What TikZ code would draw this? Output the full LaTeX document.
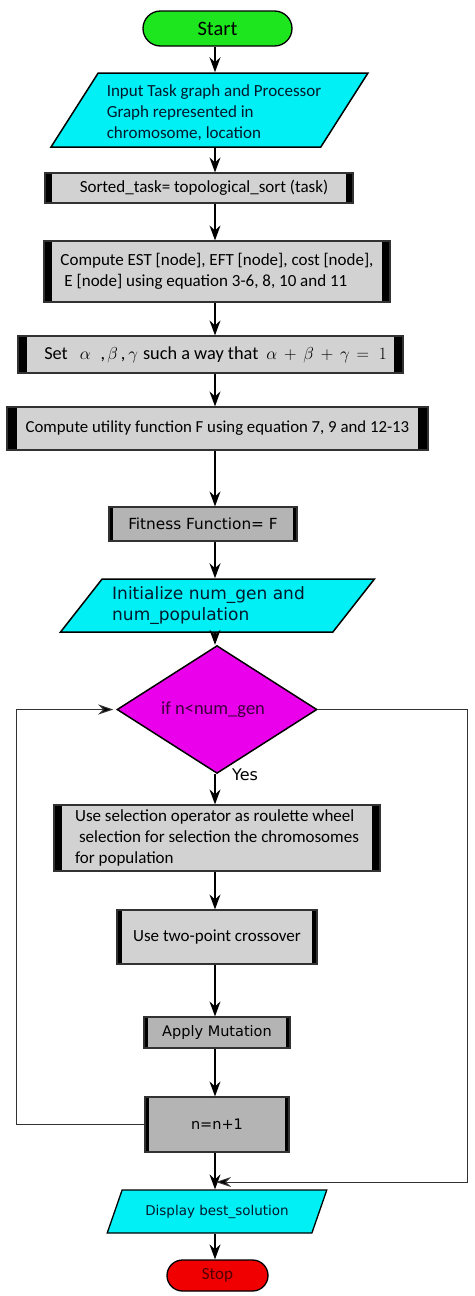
\documentclass[tikz,border=0pt]{standalone}
\usepackage{fontspec}
\setmainfont{Carlito}
\newfontfamily\vfont{DejaVu Sans}
\usetikzlibrary{shapes.geometric,arrows.meta}
\definecolor{startgreen}{RGB}{30,230,30}
\definecolor{iocyan}{RGB}{0,240,245}
\definecolor{decmag}{RGB}{235,0,235}
\definecolor{stopred}{RGB}{240,0,0}
\definecolor{lightbox}{RGB}{210,210,210}
\definecolor{darkbox}{RGB}{180,180,180}
\definecolor{iotext}{RGB}{0,25,45}
\definecolor{dectext}{RGB}{60,0,60}
\definecolor{stoptext}{RGB}{80,0,0}
\definecolor{edge}{RGB}{50,50,50}
\tikzset{
  barw/.store in=\barw, barw=7pt,
  procbox/.style={rectangle, draw=edge, line width=1.2pt, fill=lightbox, inner sep=0pt,
    font=\fontsize{17}{21}\selectfont, align=left,
    path picture={
      \fill[black] (path picture bounding box.north west) rectangle ([xshift=\barw]path picture bounding box.south west);
      \fill[black] (path picture bounding box.north east) rectangle ([xshift=-\barw]path picture bounding box.south east);
    }},
  darkproc/.style={procbox, fill=darkbox, font=\vfont\fontsize{14.5}{18}\selectfont},
  iobox/.style={trapezium, trapezium stretches=true, draw=black, line width=1.5pt, fill=iocyan,
    text=iotext, inner sep=0pt, align=left},
  terminal/.style={rectangle, draw=black, line width=1.3pt, inner sep=0pt},
  decbox/.style={diamond, draw=black, line width=1.5pt, fill=decmag, text=dectext, inner sep=0pt,
    font=\fontsize{18.5}{22}\selectfont},
  arr/.style={line width=1.3pt, -{Stealth[length=15pt,width=11pt,inset=5pt]}},
  loopline/.style={line width=1pt, draw=edge, -{Stealth[length=15pt,width=10pt,inset=5pt,fill=black]}},
}
\begin{document}
\begin{tikzpicture}[x=1pt,y=-1pt]
\useasboundingbox (0,0) rectangle (474,1296);
\fill[white] (0,0) rectangle (474,1296);

\node[terminal, fill=startgreen, rounded corners=17.5pt, minimum width=149pt, minimum height=35pt,
  font=\fontsize{20.5}{24}\selectfont] (start) at (217.5,28.5) {Start};

\node[iobox, minimum width=317pt, minimum height=74pt, trapezium left angle=55, trapezium right angle=125,
  font=\fontsize{17}{21}\selectfont] (input) at (209.5,110)
  {\rule{0pt}{18pt}Input Task graph and Processor\hspace*{-9pt}\\Graph represented in\\chromosome, location};

\node[procbox, barw=7pt, minimum width=308pt, minimum height=30pt] (sorted) at (199,188)
  {\hspace*{10pt}Sorted\_task= topological\_sort (task)};

\node[procbox, barw=8pt, minimum width=346pt, minimum height=61pt] (est) at (217,271.5)
  {Compute EST [node], EFT [node], cost [node],\\\hspace*{4pt}E [node] using equation 3-6, 8, 10 and 11};

\node[procbox, barw=9pt, minimum width=385pt, minimum height=37pt, font=\fontsize{18.3}{22}\selectfont] (set) at (210.5,354.5)
  {\hspace*{10pt}Set\hspace*{12pt}$\alpha$\hspace*{10pt},\hspace*{2pt}$\beta$\hspace*{3pt},\hspace*{3pt}$\gamma$\hspace*{5pt}such a way that\hspace*{8pt}$\alpha \mathbin{\hspace{3pt}+\hspace{3pt}} \beta \mathbin{\hspace{3pt}+\hspace{3pt}} \gamma \mathrel{\hspace{2pt}=\hspace{5pt}} 1$};

\node[procbox, barw=10pt, minimum width=421pt, minimum height=43pt, font=\fontsize{16.8}{20}\selectfont] (util) at (217.5,428.5)
  {Compute utility function F using equation 7, 9 and 12-13};

\node[darkproc, barw=4pt, minimum width=188pt, minimum height=34pt, font=\vfont\fontsize{15.3}{19}\selectfont] (fit) at (203,524)
  {Fitness Function= F};

\node[iobox, minimum width=315pt, minimum height=53pt, trapezium left angle=45, trapezium right angle=135,
  font=\vfont\fontsize{17}{21}\selectfont] (init) at (217.5,605.5)
  {Initialize num\_gen and\hspace*{18pt}\\num\_population};

\node[decbox, minimum width=200pt, minimum height=95pt] (dec) at (217,709.5) {if n<num\_gen\hspace*{8pt}};

\node[procbox, barw=8pt, minimum width=326pt, minimum height=66pt] (sel) at (217,838)
  {Use selection operator as roulette wheel\\\hspace*{4pt}selection for selection the chromosomes\\for population};

\node[procbox, barw=5pt, minimum width=200pt, minimum height=54pt] (cross) at (217,937)
  {Use two-point crossover};

\node[darkproc, barw=4pt, minimum width=146pt, minimum height=31pt] (mut) at (217,1032.5)
  {Apply Mutation};

\node[darkproc, barw=4pt, minimum width=144pt, minimum height=55pt] (inc) at (217,1124.5)
  {n=n+1};

\node[iobox, line width=1.3pt, minimum width=220pt, minimum height=43pt, trapezium left angle=50, trapezium right angle=130,
  font=\vfont\fontsize{13.5}{17}\selectfont] (disp) at (217,1211.5)
  {Display best\_solution};

\node[terminal, fill=stopred, text=stoptext, rounded corners=15.5pt, minimum width=101pt, minimum height=31pt,
  font=\fontsize{17}{21}\selectfont] (stop) at (217.5,1275.5) {Stop};

\node[font=\vfont\fontsize{16}{19}\selectfont, anchor=west, inner sep=0pt] (yes) at (232,775) {Yes};

\coordinate (sp) at (215,0);
\coordinate (lx) at (16,0);
\coordinate (rx) at (467,0);
\coordinate (join) at (216,1182);

\draw[arr] (start.south -| sp) -- (input.north -| sp);
\draw[arr] (input.south -| sp) -- (sorted.north -| sp);
\draw[arr] (sorted.south -| sp) -- (est.north -| sp);
\draw[arr] (est.south -| sp) -- (set.north -| sp);
\draw[arr] (set.south -| sp) -- (util.north -| sp);
\draw[arr] (util.south -| sp) -- (fit.north -| sp);
\draw[arr] (fit.south -| sp) -- (init.north -| sp);
\draw[arr] (init.south -| sp) -- (dec.north -| sp);
\draw[arr] (dec.south -| sp) -- (sel.north -| sp);
\draw[arr] (sel.south -| sp) -- (cross.north -| sp);
\draw[arr] (cross.south -| sp) -- (mut.north -| sp);
\draw[arr] (mut.south -| sp) -- (inc.north -| sp);
\draw[arr] (inc.south -| sp) -- (disp.north -| sp);
\draw[arr] (disp.south -| sp) -- (stop.north -| sp);

\draw[loopline] (inc.west) -- (inc.west -| lx) |- ([xshift=-3pt]dec.west);
\draw[loopline] (dec.east) -- (dec.east -| rx) |- (join);
\end{tikzpicture}
\end{document}
